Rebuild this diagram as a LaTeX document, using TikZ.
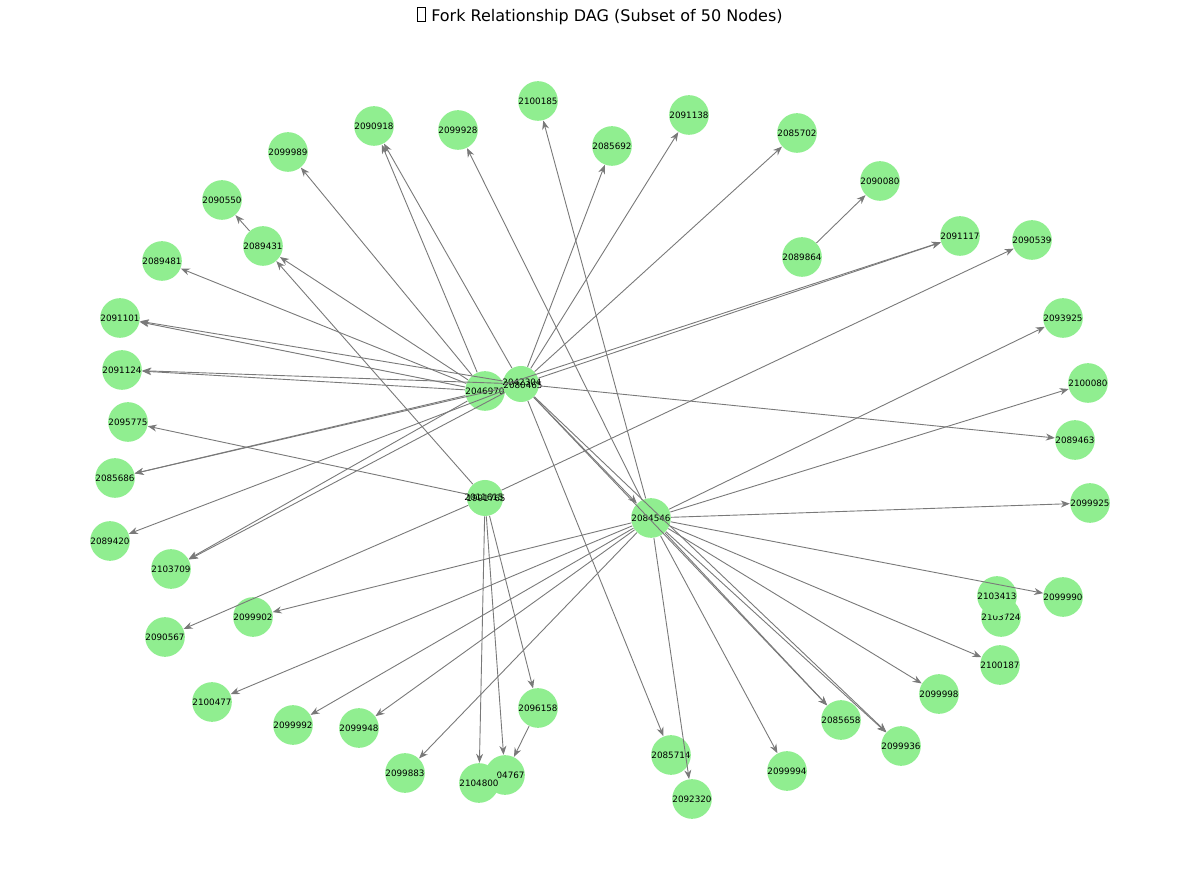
\documentclass[tikz,border=0pt]{standalone}
\usepackage{fontspec}
\setmainfont{DejaVu Sans}
\usetikzlibrary{arrows.meta}
\begin{document}
\begin{tikzpicture}[x=0.5pt,y=-0.5pt,
  nd/.style={circle,fill=green!45!white!90!black,fill opacity=1,draw=none,minimum size=18pt,inner sep=0pt,font=\fontsize{4.4}{5}\selectfont,text=black},
  ed/.style={draw=gray!95!black,line width=0.45pt,-{Stealth[length=4.5pt,width=3.5pt]},shorten >=0pt}]
\useasboundingbox (0,0) rectangle (1200,881);
\colorlet{ng}{green!45!white}
\definecolor{ngreen}{HTML}{90EE90}
\tikzset{nd/.append style={fill=ngreen}}
\node[font=\fontsize{8}{10}\selectfont] (title) at (600,16) {\tikz[baseline]\draw[line width=0.4pt](0,0) rectangle (4pt,7pt); Fork Relationship DAG (Subset of 50 Nodes)};
% nodes
\foreach \n/\x/\y in {
2100185/538/101, 2090918/374/126, 2099928/458/130, 2091138/689/115, 2085692/612/146, 2085702/797/133,
2099989/288/152, 2090550/222/200, 2090080/880/181, 2089431/263/246, 2089864/802/257, 2091117/960/236,
2090539/1032/240, 2089481/162/261, 2091101/120/318, 2093925/1063/318, 2091124/122/370, 2100080/1088/383,
2095775/128/422, 2089463/1075/440, 2085686/115/478, 2099925/1090/503, 2089420/110/541, 2103709/171/569,
2090567/165/637, 2099902/253/617, 2099990/1063/597, 2103724/1001/617, 2103413/997/596, 2100187/1000/665,
2100477/212/702, 2099998/939/694, 2099992/293/725, 2096158/538/708, 2099948/359/728, 2085658/841/720,
2099936/901/746, 2099883/405/773, 2104767/505/775, 2104800/479/783, 2085714/671/755, 2099994/787/771,
2092320/692/799, 2084546/651/518}
  \node[nd] (n\n) at (\x,\y) {\n};
\node[nd] (nA) at (485,391) {2046970};
\node[nd] (nB) at (521,384) {};
\node[font=\fontsize{4.4}{5}\selectfont] at (522,382) {2042304};
\node[font=\fontsize{4.4}{5}\selectfont] at (523,385) {2080465};
\node[nd] (nC) at (485,498) {};
\node[font=\fontsize{4.4}{5}\selectfont] at (484,497) {2011615};
\node[font=\fontsize{4.4}{5}\selectfont] at (486,498) {1991765};
% edges from A
\foreach \t in {2099989,2089481,2091101,2091124,2085686,2103709,2090918,2091117,2089431}
  \draw[ed] (nA) -- (n\t);
% edges from B
\foreach \t in {2090918,2085692,2091138,2085702,2091117,2091101,2091124,2085686,2089420,2103709,2089463,2085714,2085658,2099936,2084546}
  \draw[ed] (nB) -- (n\t);
% edges from C
\foreach \t in {2090539,2090567,2095775,2104800,2104767,2096158,2089431}
  \draw[ed] (nC) -- (n\t);
% edges from D
\foreach \t in {2100185,2099928,2093925,2100080,2099925,2099990,2100187,2099998,2085658,2099936,2099994,2092320,2099902,2100477,2099992,2099948,2099883}
  \draw[ed] (n2084546) -- (n\t);
\draw[ed] (n2089431) -- (n2090550);
\draw[ed] (n2089864) -- (n2090080);
\draw[ed] (n2096158) -- (n2104767);
\end{tikzpicture}
\end{document}
